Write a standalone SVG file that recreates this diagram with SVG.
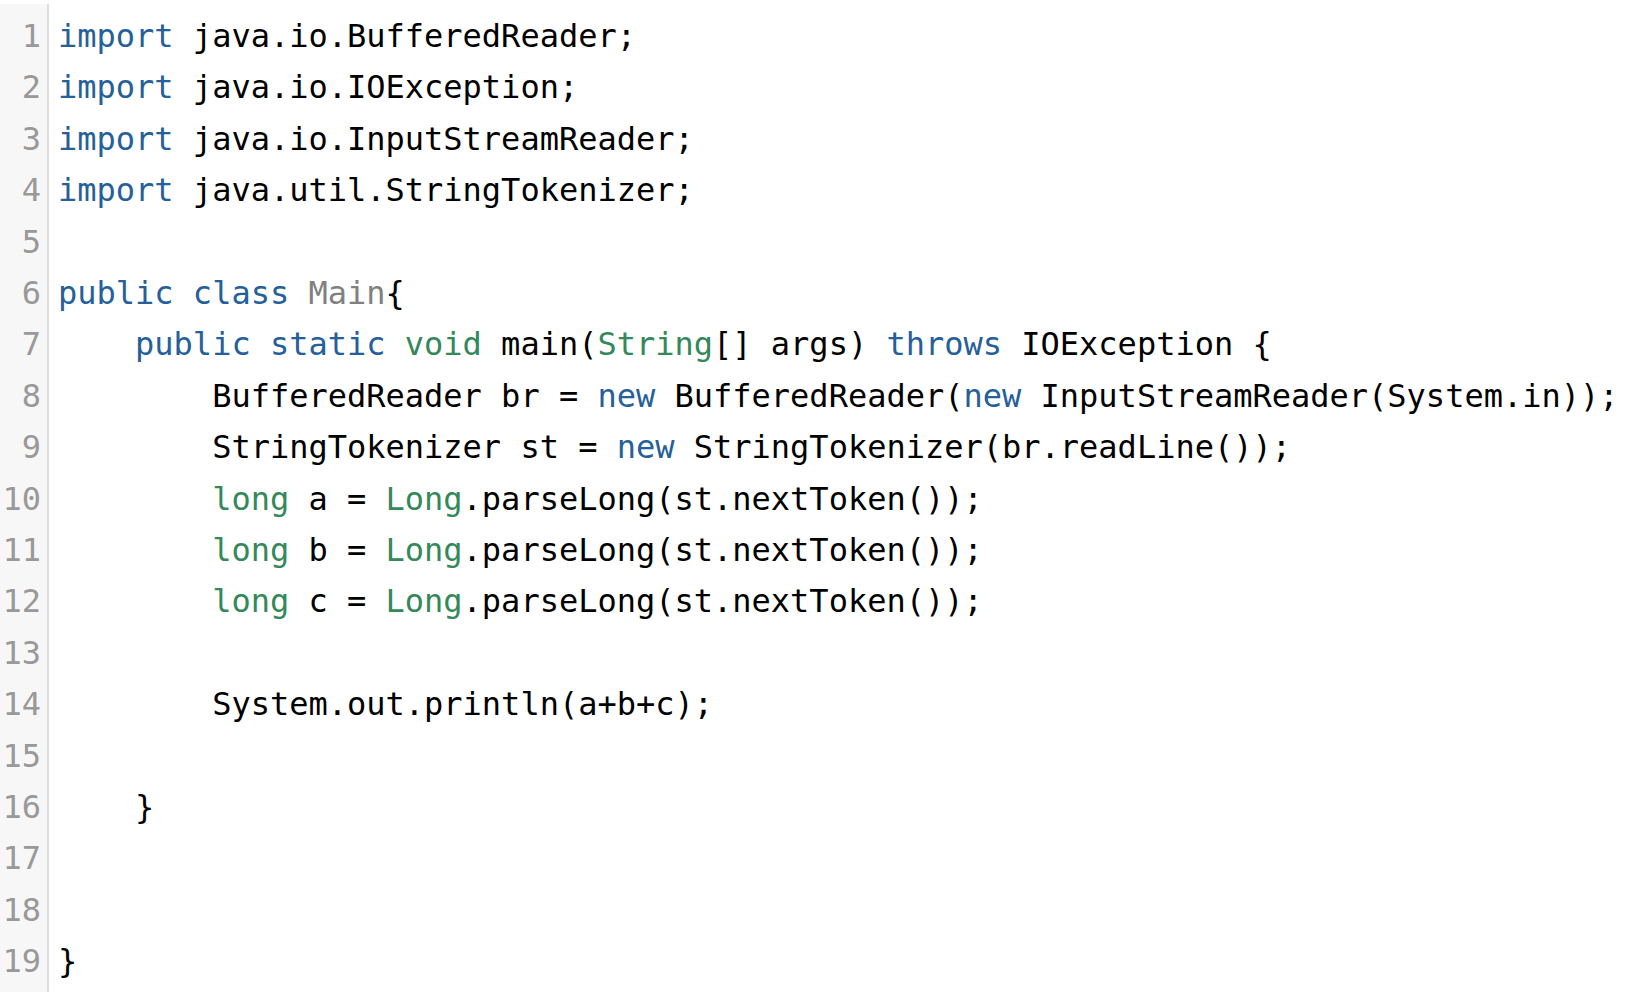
<svg xmlns="http://www.w3.org/2000/svg" width="1634" height="998" viewBox="0 0 1634 998">
<style>
text{font-family:"DejaVu Sans Mono","Liberation Mono",monospace;font-size:32px;white-space:pre;fill:#000}
.n{fill:#999;text-anchor:end}
.k{fill:#25609a}
.g{fill:#34885a}
.m{fill:#808080}
</style>
<rect width="1634" height="998" fill="#fff"/>
<rect x="0" y="4" width="48" height="988" fill="#f7f7f7"/>
<line x1="48" y1="4" x2="48" y2="992" stroke="#ddd" stroke-width="2"/>
<g id="numbers">
<text class="n" x="41" y="47">1</text>
<text class="n" x="41" y="98">2</text>
<text class="n" x="41" y="150">3</text>
<text class="n" x="41" y="201">4</text>
<text class="n" x="41" y="253">5</text>
<text class="n" x="41" y="304">6</text>
<text class="n" x="41" y="355">7</text>
<text class="n" x="41" y="407">8</text>
<text class="n" x="41" y="458">9</text>
<text class="n" x="41" y="510">10</text>
<text class="n" x="41" y="561">11</text>
<text class="n" x="41" y="612">12</text>
<text class="n" x="41" y="664">13</text>
<text class="n" x="41" y="715">14</text>
<text class="n" x="41" y="767">15</text>
<text class="n" x="41" y="818">16</text>
<text class="n" x="41" y="869">17</text>
<text class="n" x="41" y="921">18</text>
<text class="n" x="41" y="972">19</text>
</g>
<g id="code">
<text x="58" y="47"><tspan class="k">import</tspan> java.io.BufferedReader;</text>
<text x="58" y="98"><tspan class="k">import</tspan> java.io.IOException;</text>
<text x="58" y="150"><tspan class="k">import</tspan> java.io.InputStreamReader;</text>
<text x="58" y="201"><tspan class="k">import</tspan> java.util.StringTokenizer;</text>
<text x="58" y="304"><tspan class="k">public class</tspan> <tspan class="m">Main</tspan>{</text>
<text x="58" y="355">    <tspan class="k">public static</tspan> <tspan class="g">void</tspan> main(<tspan class="g">String</tspan>[] args) <tspan class="k">throws</tspan> IOException {</text>
<text x="58" y="407">        BufferedReader br = <tspan class="k">new</tspan> BufferedReader(<tspan class="k">new</tspan> InputStreamReader(System.in));</text>
<text x="58" y="458">        StringTokenizer st = <tspan class="k">new</tspan> StringTokenizer(br.readLine());</text>
<text x="58" y="510">        <tspan class="g">long</tspan> a = <tspan class="g">Long</tspan>.parseLong(st.nextToken());</text>
<text x="58" y="561">        <tspan class="g">long</tspan> b = <tspan class="g">Long</tspan>.parseLong(st.nextToken());</text>
<text x="58" y="612">        <tspan class="g">long</tspan> c = <tspan class="g">Long</tspan>.parseLong(st.nextToken());</text>
<text x="58" y="715">        System.out.println(a+b+c);</text>
<text x="58" y="818">    }</text>
<text x="58" y="972">}</text>
</g>
</svg>
